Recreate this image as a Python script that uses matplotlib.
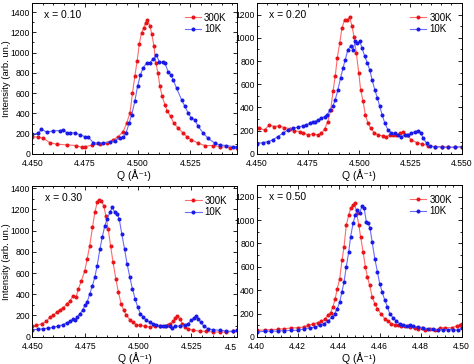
import numpy as np
import matplotlib; matplotlib.use("Agg")
import matplotlib.pyplot as plt
from matplotlib.ticker import MultipleLocator, FormatStrFormatter

plt.rcParams.update({"font.family": ["Liberation Sans", "DejaVu Sans"], "font.size": 7})

# ── data: Q (1/Å) and intensity (arb. un.) ──────────────────────────────────
# x = 0.10
q10_300 = [4.4500, 4.4528, 4.4552, 4.4584, 4.4616, 4.4663, 4.4710, 4.4734, 4.4752, 4.4782,
           4.4821, 4.4853, 4.4884, 4.4908, 4.4932, 4.4948, 4.4964, 4.4976, 4.4987, 4.4998,
           4.5008, 4.5019, 4.5030, 4.5038, 4.5047, 4.5059, 4.5068, 4.5078, 4.5087, 4.5097,
           4.5106, 4.5117, 4.5130, 4.5142, 4.5157, 4.5172, 4.5193, 4.5214, 4.5233, 4.5256,
           4.5288, 4.5320, 4.5359, 4.5391, 4.5438, 4.5473]
i10_300 = [172, 165, 155, 112, 96, 90, 83, 66, 73, 86,
           99, 112, 139, 172, 221, 304, 403, 600, 766, 914,
           1080, 1195, 1245, 1294, 1320, 1261, 1179, 1063, 898, 799,
           667, 568, 485, 419, 370, 304, 254, 211, 172, 139,
           106, 83, 83, 73, 63, 63]
q10_10 = [4.4500, 4.4528, 4.4544, 4.4568, 4.4600, 4.4631, 4.4647, 4.4663, 4.4679, 4.4703,
          4.4726, 4.4750, 4.4766, 4.4790, 4.4813, 4.4837, 4.4869, 4.4892, 4.4916, 4.4932,
          4.4945, 4.4960, 4.4972, 4.4987, 4.5000, 4.5014, 4.5027, 4.5043, 4.5059, 4.5074,
          4.5090, 4.5103, 4.5119, 4.5130, 4.5146, 4.5157, 4.5169, 4.5185, 4.5209, 4.5225,
          4.5241, 4.5256, 4.5272, 4.5288, 4.5312, 4.5335, 4.5367, 4.5391, 4.5422, 4.5454,
          4.5473]
i10_10 = [195, 205, 244, 215, 228, 231, 238, 211, 205, 211,
          188, 172, 165, 112, 106, 112, 116, 132, 162, 165,
          205, 304, 386, 518, 667, 782, 850, 898, 900, 940,
          975, 910, 905, 895, 810, 782, 733, 650, 535, 469,
          400, 353, 337, 271, 205, 155, 106, 89, 83, 73,
          73]

# x = 0.20
q20_300 = [4.4500, 4.4513, 4.4538, 4.4562, 4.4586, 4.4611, 4.4635, 4.4660, 4.4684, 4.4709,
           4.4725, 4.4750, 4.4774, 4.4799, 4.4815, 4.4831, 4.4847, 4.4861, 4.4872, 4.4883,
           4.4893, 4.4905, 4.4916, 4.4929, 4.4942, 4.4953, 4.4965, 4.4975, 4.4986, 4.4998,
           4.5007, 4.5019, 4.5030, 4.5043, 4.5056, 4.5073, 4.5092, 4.5117, 4.5133, 4.5149,
           4.5166, 4.5182, 4.5198, 4.5215, 4.5231, 4.5255, 4.5280, 4.5304, 4.5337, 4.5370,
           4.5402, 4.5435, 4.5467, 4.5500]
i20_300 = [227, 222, 207, 250, 236, 242, 227, 219, 201, 193,
           184, 164, 173, 164, 178, 213, 279, 380, 538, 668,
           826, 955, 1085, 1157, 1151, 1180, 1099, 1007, 869, 696,
           553, 452, 337, 265, 222, 184, 164, 155, 150, 164,
           164, 164, 178, 190, 164, 121, 98, 86, 72, 63,
           63, 58, 58, 63]
q20_10 = [4.4500, 4.4529, 4.4554, 4.4578, 4.4603, 4.4627, 4.4652, 4.4676, 4.4701, 4.4725,
          4.4741, 4.4758, 4.4774, 4.4785, 4.4799, 4.4815, 4.4831, 4.4844, 4.4857, 4.4872,
          4.4883, 4.4896, 4.4909, 4.4921, 4.4932, 4.4945, 4.4958, 4.4970, 4.4981, 4.4991,
          4.5002, 4.5014, 4.5027, 4.5040, 4.5051, 4.5063, 4.5076, 4.5089, 4.5100, 4.5112,
          4.5125, 4.5141, 4.5154, 4.5174, 4.5190, 4.5206, 4.5223, 4.5239, 4.5255, 4.5272,
          4.5288, 4.5301, 4.5312, 4.5329, 4.5345, 4.5370, 4.5402, 4.5435, 4.5467, 4.5500]
i20_10 = [86, 98, 106, 121, 150, 178, 207, 222, 230, 242,
          250, 265, 279, 279, 294, 308, 322, 337, 380, 414,
          466, 553, 653, 740, 812, 898, 927, 898, 970, 955,
          970, 912, 840, 783, 725, 639, 553, 481, 409, 337,
          265, 207, 184, 178, 164, 150, 164, 164, 178, 193,
          201, 184, 135, 92, 66, 63, 58, 58, 58, 63]

# x = 0.30
q30_300 = [4.4500, 4.4520, 4.4544, 4.4567, 4.4583, 4.4599, 4.4615, 4.4630, 4.4646, 4.4662,
           4.4677, 4.4693, 4.4706, 4.4718, 4.4732, 4.4748, 4.4759, 4.4771, 4.4784, 4.4795,
           4.4806, 4.4815, 4.4826, 4.4837, 4.4847, 4.4858, 4.4869, 4.4881, 4.4894, 4.4906,
           4.4919, 4.4932, 4.4944, 4.4960, 4.4975, 4.4991, 4.5007, 4.5030, 4.5054, 4.5077,
           4.5101, 4.5125, 4.5140, 4.5151, 4.5164, 4.5175, 4.5184, 4.5195, 4.5208, 4.5219,
           4.5234, 4.5258, 4.5289, 4.5321, 4.5352, 4.5383, 4.5415, 4.5446, 4.5465]
i30_300 = [100, 106, 122, 144, 185, 200, 232, 254, 269, 310,
           332, 388, 373, 451, 529, 623, 733, 858, 1030, 1171,
           1265, 1290, 1281, 1234, 1140, 1015, 858, 701, 545, 420,
           310, 247, 200, 160, 138, 113, 106, 100, 91, 100,
           100, 100, 106, 122, 144, 175, 191, 169, 122, 91,
           75, 60, 53, 50, 44, 44, 44, 50, 60]
q30_10 = [4.4500, 4.4528, 4.4552, 4.4575, 4.4599, 4.4622, 4.4646, 4.4662, 4.4677, 4.4690,
          4.4701, 4.4712, 4.4724, 4.4737, 4.4748, 4.4759, 4.4771, 4.4784, 4.4795, 4.4806,
          4.4819, 4.4830, 4.4842, 4.4853, 4.4866, 4.4878, 4.4889, 4.4900, 4.4910, 4.4922,
          4.4935, 4.4947, 4.4960, 4.4972, 4.4985, 4.4997, 4.5010, 4.5023, 4.5038, 4.5054,
          4.5070, 4.5085, 4.5101, 4.5117, 4.5132, 4.5148, 4.5159, 4.5172, 4.5195, 4.5219,
          4.5234, 4.5250, 4.5261, 4.5270, 4.5281, 4.5294, 4.5308, 4.5328, 4.5352, 4.5383,
          4.5415, 4.5446, 4.5465]
i30_10 = [66, 69, 75, 81, 88, 100, 113, 132, 144, 163,
          153, 185, 216, 247, 294, 326, 404, 482, 561, 670,
          827, 936, 1046, 1109, 1171, 1218, 1171, 1156, 1109, 968,
          827, 686, 561, 451, 357, 279, 216, 185, 153, 138,
          122, 113, 100, 100, 100, 100, 81, 100, 100, 106,
          122, 153, 179, 191, 169, 138, 100, 75, 66, 60,
          53, 50, 60]

# x = 0.50
q50_300 = [4.4000, 4.4038, 4.4070, 4.4103, 4.4135, 4.4168, 4.4201, 4.4233, 4.4250, 4.4274,
           4.4299, 4.4315, 4.4331, 4.4347, 4.4361, 4.4372, 4.4383, 4.4393, 4.4405, 4.4416,
           4.4426, 4.4437, 4.4449, 4.4458, 4.4470, 4.4478, 4.4488, 4.4498, 4.4507, 4.4519,
           4.4530, 4.4540, 4.4551, 4.4563, 4.4576, 4.4589, 4.4605, 4.4625, 4.4641, 4.4657,
           4.4674, 4.4690, 4.4706, 4.4723, 4.4747, 4.4772, 4.4788, 4.4804, 4.4821, 4.4845,
           4.4870, 4.4894, 4.4918, 4.4951, 4.4976, 4.4992, 4.5000]
i50_300 = [57, 60, 63, 66, 71, 77, 80, 86, 100, 111,
           123, 134, 151, 186, 209, 257, 329, 414, 500, 657,
           771, 957, 1043, 1100, 1129, 1143, 1057, 957, 857, 729,
           600, 514, 443, 343, 286, 243, 200, 157, 134, 114,
           106, 100, 91, 91, 86, 77, 71, 80, 63, 71,
           57, 77, 80, 80, 94, 100, 114]
q50_10 = [4.4000, 4.4038, 4.4070, 4.4103, 4.4135, 4.4168, 4.4201, 4.4233, 4.4258, 4.4282,
          4.4307, 4.4328, 4.4347, 4.4367, 4.4380, 4.4393, 4.4405, 4.4416, 4.4426, 4.4437,
          4.4449, 4.4458, 4.4470, 4.4481, 4.4491, 4.4502, 4.4514, 4.4524, 4.4535, 4.4543,
          4.4553, 4.4563, 4.4576, 4.4589, 4.4600, 4.4612, 4.4625, 4.4638, 4.4649, 4.4666,
          4.4682, 4.4698, 4.4715, 4.4731, 4.4747, 4.4763, 4.4788, 4.4812, 4.4837, 4.4861,
          4.4886, 4.4910, 4.4935, 4.4959, 4.4984, 4.5000]
i50_10 = [43, 49, 49, 51, 54, 57, 57, 71, 77, 83,
          100, 114, 134, 171, 200, 243, 300, 386, 471, 600,
          729, 857, 971, 1043, 1086, 1057, 1123, 1100, 986, 977,
          929, 814, 671, 557, 457, 386, 314, 257, 200, 163,
          134, 114, 106, 94, 106, 94, 86, 77, 71, 66,
          63, 63, 63, 63, 57, 77]

PANELS = [
    # label, q300, i300, q10, i10, xlim, ylim, xticks
    ("x = 0.10", q10_300, i10_300, q10_10, i10_10, (4.45, 4.547), (0, 1490),
     [4.450, 4.475, 4.500, 4.525]),
    ("x = 0.20", q20_300, i20_300, q20_10, i20_10, (4.45, 4.55), (0, 1300),
     [4.450, 4.475, 4.500, 4.525, 4.550]),
    ("x = 0.30", q30_300, i30_300, q30_10, i30_10, (4.45, 4.5465), (0, 1420),
     [4.450, 4.475, 4.500, 4.525]),
    ("x = 0.50", q50_300, i50_300, q50_10, i50_10, (4.40, 4.50), (0, 1300),
     [4.40, 4.42, 4.44, 4.46, 4.48, 4.50]),
]
# axes rectangles in figure fractions
RECTS = [(0.068, 0.577, 0.431, 0.415), (0.5416, 0.577, 0.4324, 0.415),
         (0.068, 0.075, 0.432, 0.414), (0.5416, 0.0742, 0.4324, 0.4176)]
RED, BLUE = "#e8141a", "#1a1ae8"

fig = plt.figure(figsize=(4.74, 3.64), dpi=100)
for k, (lab, qa, ia, qb, ib, xl, yl, xt) in enumerate(PANELS):
    ax = fig.add_axes(RECTS[k])
    ax.plot(qa, ia, "-o", color="#ff6a6a", mfc=RED, mec=RED, ms=1.9, lw=0.8, label="300K")
    ax.plot(qb, ib, "-o", color="#6a6aff", mfc=BLUE, mec=BLUE, ms=1.9, lw=0.8, label="10K")
    ax.set_xlim(*xl); ax.set_ylim(*yl)
    ax.set_xticks(xt)
    ax.xaxis.set_major_formatter(FormatStrFormatter("%.3f" if k < 3 else "%.2f"))
    ax.xaxis.set_minor_locator(MultipleLocator(0.005 if k < 3 else 0.004))
    ax.yaxis.set_major_locator(MultipleLocator(200))
    ax.yaxis.set_minor_locator(MultipleLocator(100))
    ax.tick_params(which="both", direction="in", top=True, right=True,
                   labelsize=6.2, width=0.6)
    ax.tick_params(axis="x", pad=3.5)
    ax.tick_params(axis="y", pad=1.5)
    ax.tick_params(which="major", length=3)
    ax.tick_params(which="minor", length=1.6)
    for s in ax.spines.values():
        s.set_linewidth(0.7)
    ax.set_xlabel("Q (Å⁻¹)", fontsize=7.5, labelpad=1)
    ax.text(0.06, 0.92, lab, transform=ax.transAxes, fontsize=7.5, va="center")
    ax.legend(loc="upper right", frameon=False, fontsize=7, handlelength=1.7,
              handletextpad=0.3, labelspacing=0.15, borderaxespad=0.6)
    if k == 2:
        ax.text(1.0, -0.045, "4.5", transform=ax.transAxes, ha="right", va="top",
                fontsize=6.2)
    if k % 2 == 0:
        mid = RECTS[k][1] + RECTS[k][3] / 2
        fig.text(7 / 474, mid, "Intensity (arb. un.)", rotation=90,
                 ha="center", va="center", fontsize=6.8)

fig.savefig("out.png", dpi=100)
